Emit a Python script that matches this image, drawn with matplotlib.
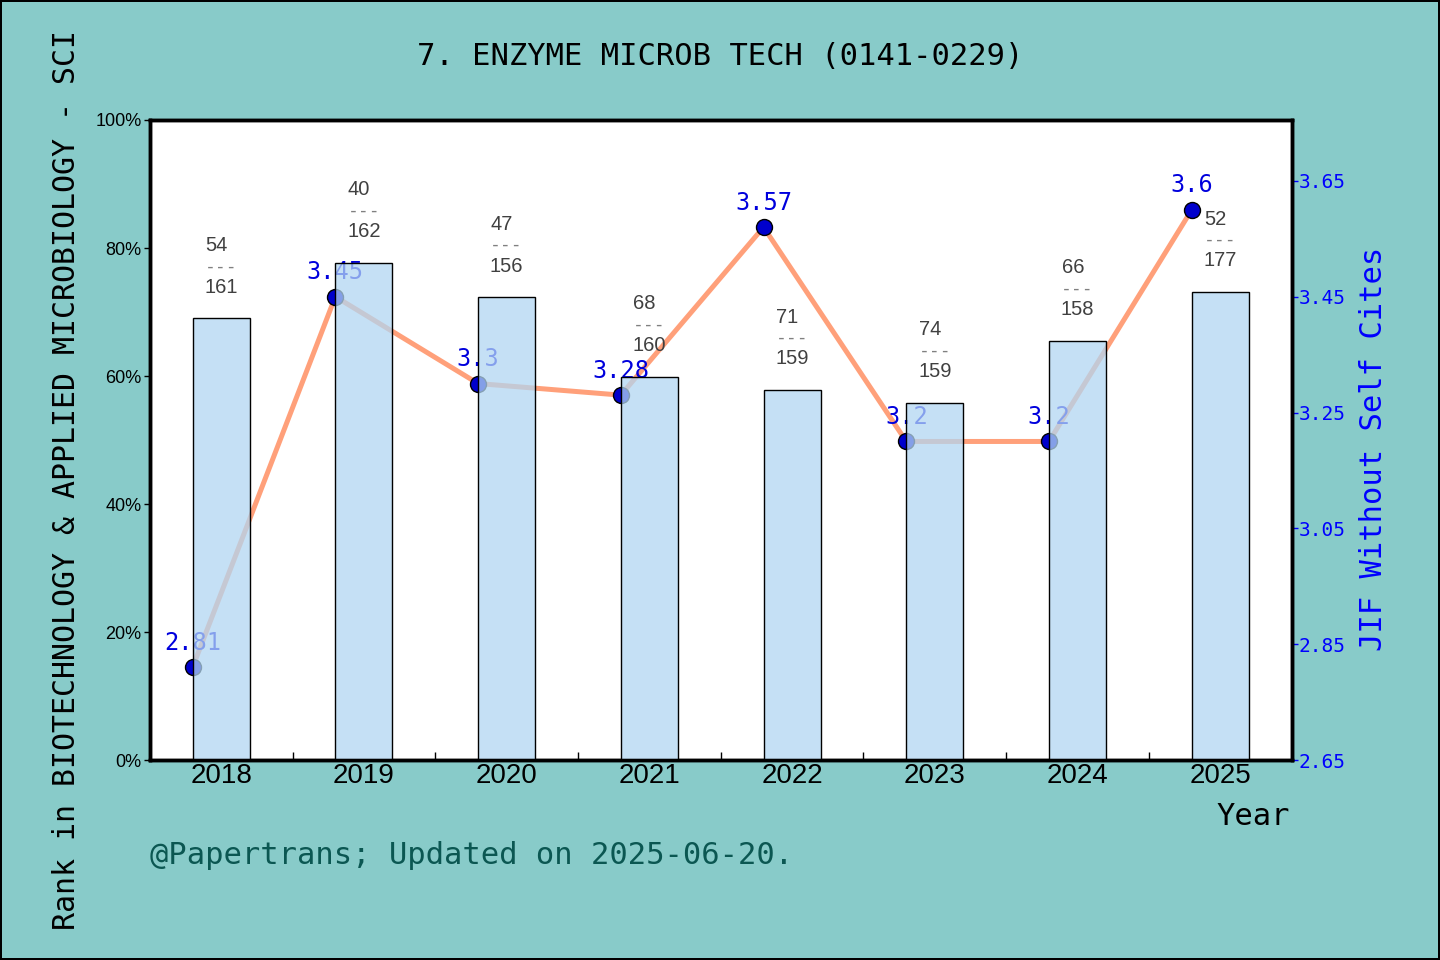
import numpy as np
import matplotlib.pyplot as plt

# chart data
years = ['2018', '2019', '2020', '2021', '2022', '2023', '2024', '2025']
rank_pct = [69.0, 77.7, 72.3, 59.9, 57.8, 55.8, 65.5, 73.1]
ranks = [54, 40, 47, 68, 71, 74, 66, 52]
totals = [161, 162, 156, 160, 159, 159, 158, 177]
jif = [2.81, 3.45, 3.3, 3.28, 3.57, 3.2, 3.2, 3.6]
jif_ticks = [2.65, 2.85, 3.05, 3.25, 3.45, 3.65]

mono = 'DejaVu Sans Mono'
sans = 'Liberation Sans'
bg = '#88CBC9'

fig = plt.figure(figsize=(14.4, 9.6), dpi=100, facecolor=bg,
                 edgecolor='black', linewidth=1.5)
ax = fig.add_axes([0.104, 0.2083, 0.793, 0.6667])
ax2 = ax.twinx()

# bars on the left axis, drawn above the line axis
ax.set_zorder(ax2.get_zorder() + 1)
ax.patch.set_visible(False)
ax2.patch.set_visible(True)
ax2.patch.set_facecolor('white')

x = np.arange(len(years))

# JIF line (right axis)
ax2.plot(x, jif, color='#FFA07A', lw=3.6, zorder=2)
ax2.plot(x, jif, 'o', color='#0000CC', mec='black', mew=1, ms=11.5, zorder=3)
for xi, v in zip(x, jif):
    ax2.annotate(f'{v:g}', (xi, v), xytext=(0, 9), textcoords='offset points',
                 ha='center', va='bottom', fontsize=17, family=mono,
                 color='#0000DD')
ax2.set_ylim(2.65, 3.755)
ax2.set_yticks(jif_ticks)
ax2.set_yticklabels([f'{t:.2f}' for t in jif_ticks], family=mono, fontsize=14)
ax2.tick_params(axis='y', colors='blue', length=4, width=1, pad=1)

# rank bars (left axis)
ax.bar(x, rank_pct, width=0.4, align='edge', facecolor=(0.698, 0.839, 0.949, 0.75),
       edgecolor='black', linewidth=1, zorder=2)
for xi, p, r, t in zip(x, rank_pct, ranks, totals):
    ax.annotate(str(t), (xi + 0.2, p), xytext=(0, 22.5),
                textcoords='offset points', ha='center', va='center',
                fontsize=14.5, family=sans, color='#404040')
    ax.annotate('---', (xi + 0.2, p), xytext=(0, 37.5),
                textcoords='offset points', ha='center', va='center',
                fontsize=13, family=mono, color='#808080')
    ax.annotate(str(r), (xi + 0.2, p), xytext=(-11.5, 52.5),
                textcoords='offset points', ha='left', va='center',
                fontsize=14.5, family=sans, color='#404040')

ax.set_ylim(0, 100)
ax.set_yticks(range(0, 101, 20))
ax.set_yticklabels([f'{t}%' for t in range(0, 101, 20)], family=sans, fontsize=13)
ax.tick_params(axis='y', length=4, width=1, pad=2)

ax.set_xlim(-0.3, 7.7)
ax.set_xticks(x + 0.2)
ax.set_xticklabels(years, family=sans, fontsize=20)
ax.set_xticks(x[:-1] + 0.7, minor=True)
ax.tick_params(axis='x', which='major', length=0, pad=2)
ax.tick_params(axis='x', which='minor', length=6, width=1, direction='in')

for a in (ax, ax2):
    for s in a.spines.values():
        s.set_linewidth(2.5)

# figure texts
fig.text(0.5, 0.941, '7. ENZYME MICROB TECH (0141-0229)', ha='center',
         va='center', fontsize=22, family=mono)
fig.text(0.0465, 0.5, 'Rank in BIOTECHNOLOGY & APPLIED MICROBIOLOGY - SCI',
         rotation=90, ha='center', va='center', fontsize=21.5, family=mono)
fig.text(0.9535, 0.532, 'JIF Without Self Cites', rotation=90, ha='center',
         va='center', fontsize=22, family=mono, color='blue')
fig.text(0.896, 0.149, 'Year', ha='right', va='center', fontsize=22, family=mono)
fig.text(0.104, 0.109, '@Papertrans; Updated on 2025-06-20.', ha='left',
         va='center', fontsize=22, family=mono, color='#0B5752')

fig.savefig('out.png', dpi=100)
